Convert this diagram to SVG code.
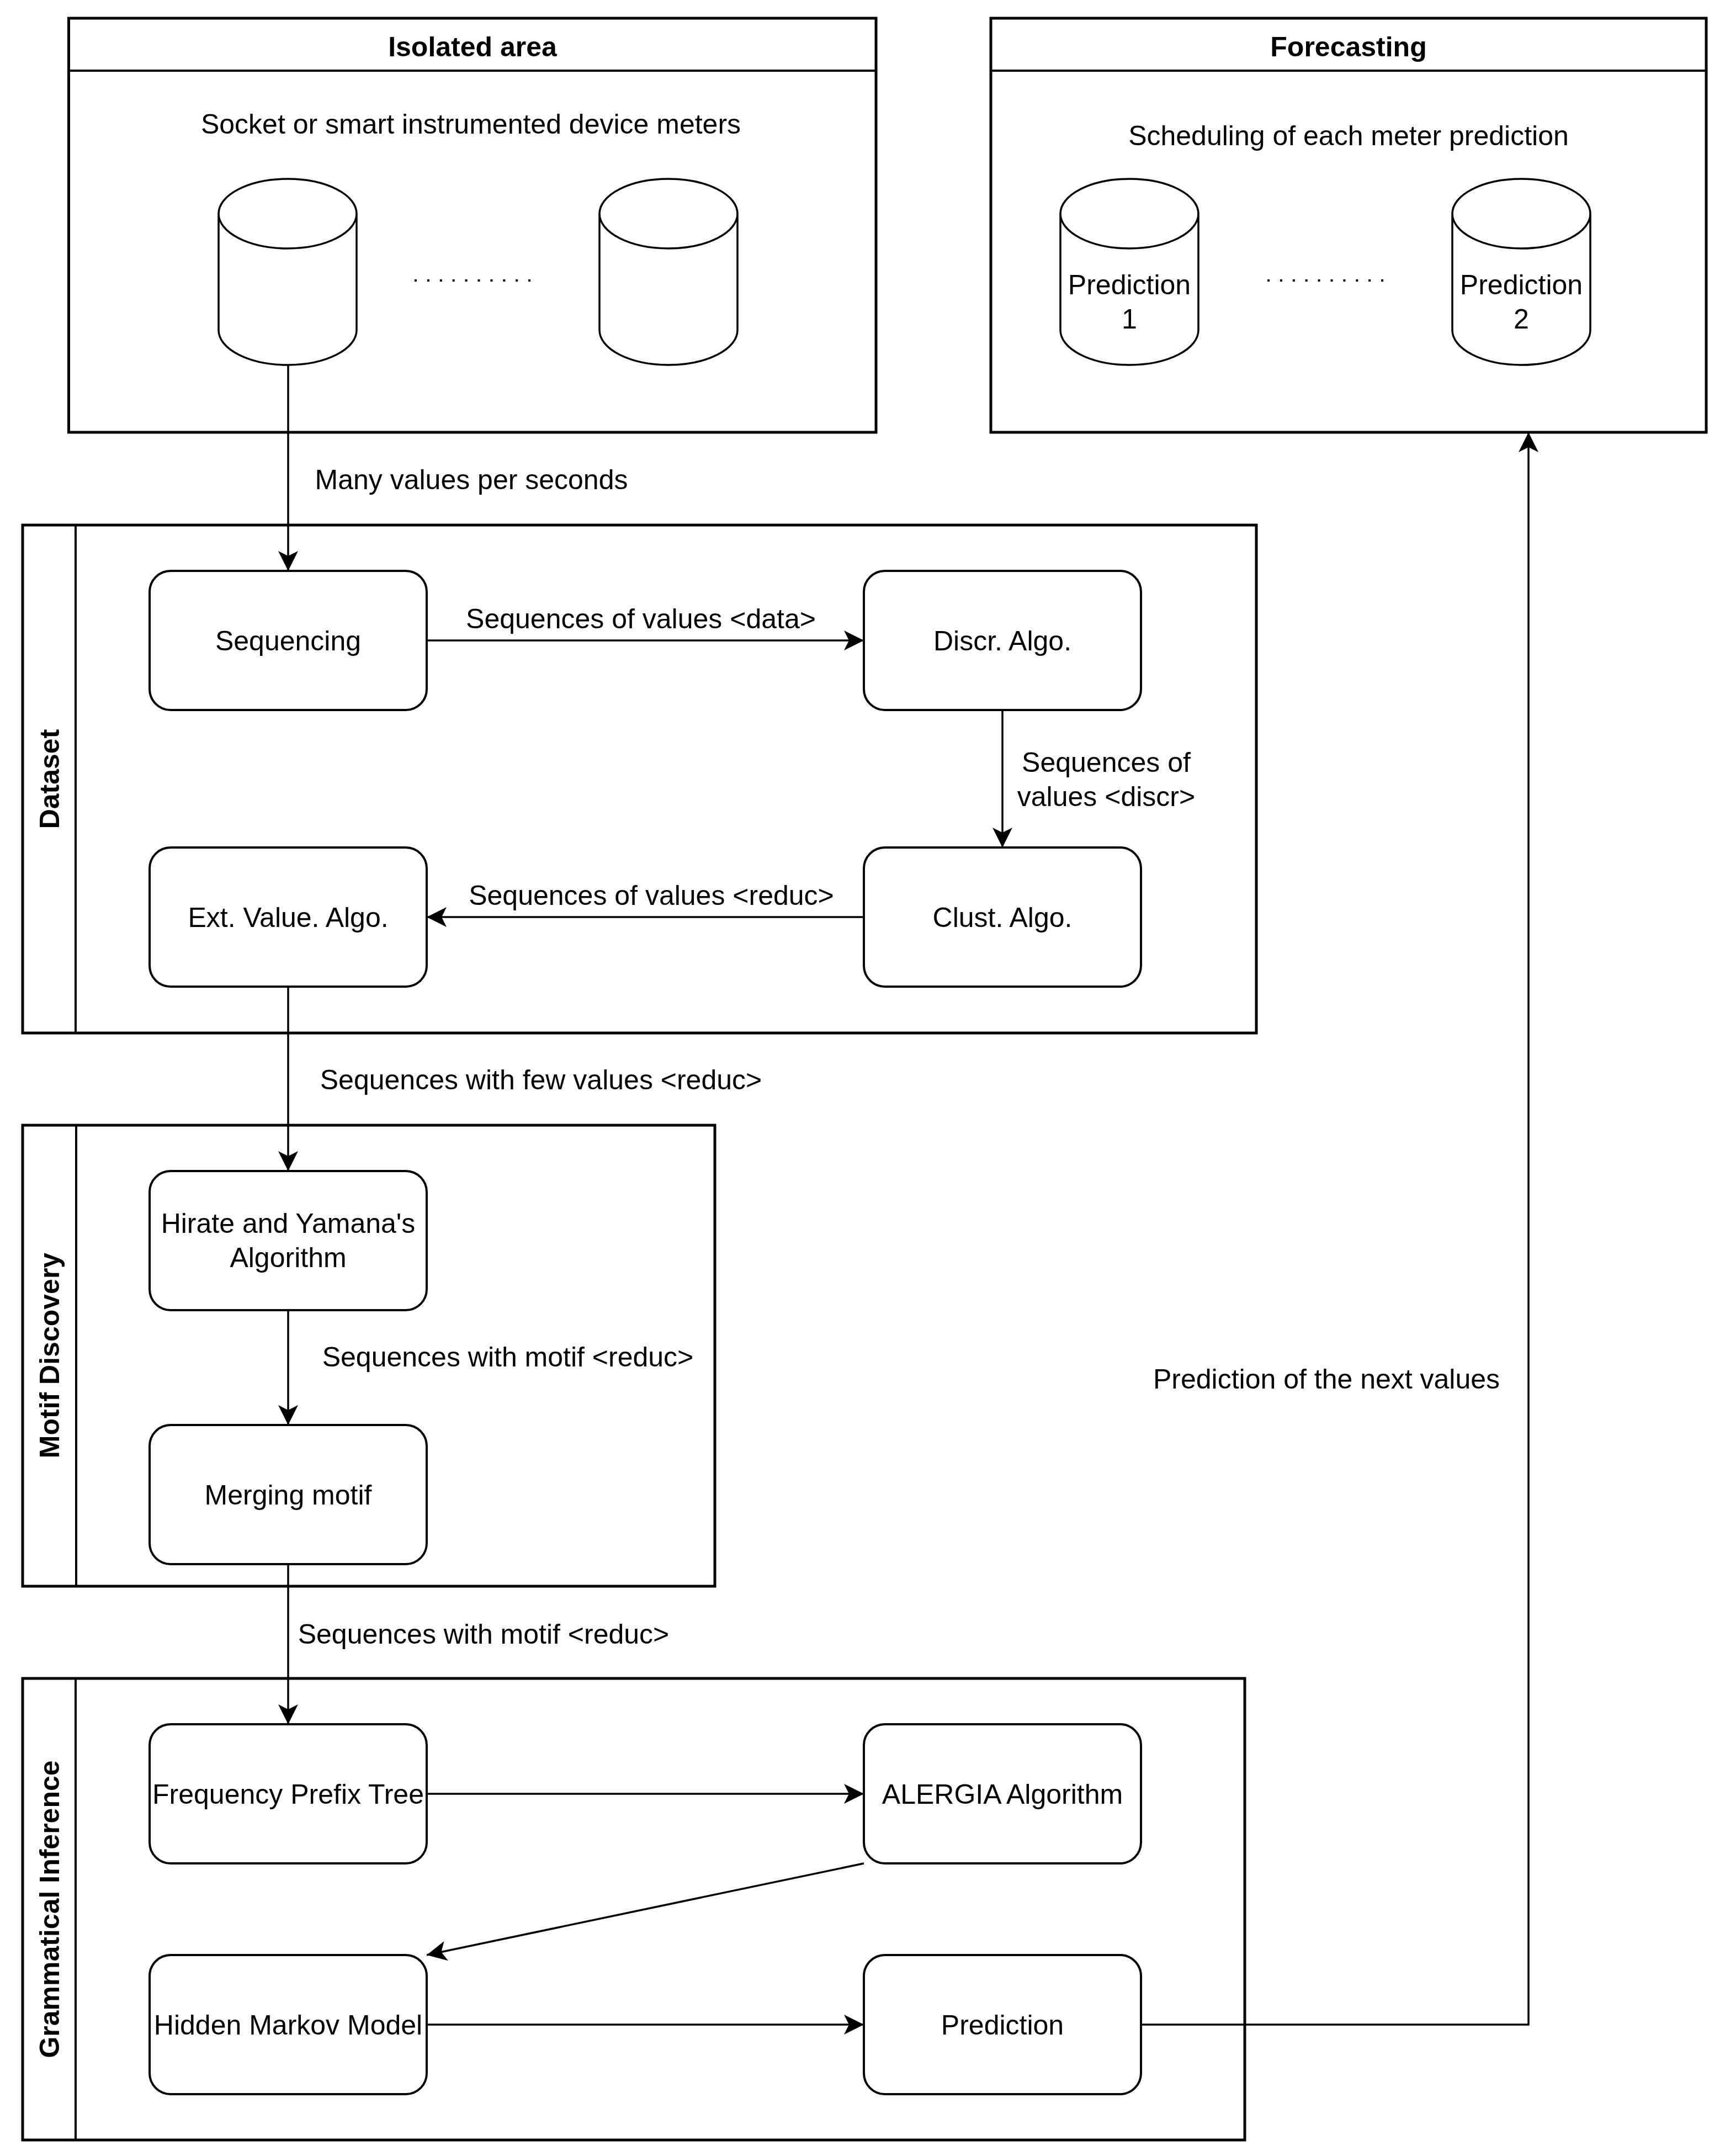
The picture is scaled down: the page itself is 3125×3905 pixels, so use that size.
<svg xmlns="http://www.w3.org/2000/svg" width="3125" height="3905" viewBox="0 0 3125 3905">
<style>
text{font-family:"Liberation Sans",Arial,sans-serif;font-size:50px;fill:#000;text-anchor:middle}
.b{font-weight:bold}
.cont{fill:#fff;stroke:#000;stroke-width:5}
.div{fill:none;stroke:#000;stroke-width:4}
.box{fill:#fff;stroke:#000;stroke-width:4}
.cyl{fill:#fff;stroke:#000;stroke-width:3.5}
.dots{stroke:#000;stroke-width:4;stroke-dasharray:4 18.9;fill:none}
.edge{fill:none;stroke:#000;stroke-width:3.5;marker-end:url(#arr)}
</style>
<defs>
<marker id="arr" markerUnits="userSpaceOnUse" markerWidth="38" markerHeight="38" refX="36" refY="18" orient="auto" viewBox="0 0 38 38">
<path d="M0,0 L36,18 L0,36 L9,18 Z" fill="#000"/>
</marker>
</defs>
<rect width="3125" height="3905" fill="#fff"/>

<g id="isolated-area">
<rect class="cont" x="124.5" y="33" width="1462.5" height="750"/>
<line class="div" x1="124.5" y1="128" x2="1587" y2="128"/>
<text class="b" x="856" y="102">Isolated area</text>
<text x="853" y="242">Socket or smart instrumented device meters</text>
</g>
<g id="meter-1">
<path class="cyl" d="M396,387 A125,63 0 0 1 646,387 A125,63 0 0 1 396,387 Z M396,387 L396,598 A125,63 0 0 0 646,598 L646,387"/>
</g>
<g id="meter-dots">
<line class="dots" x1="751" y1="508" x2="961" y2="508"/>
</g>
<g id="meter-2">
<path class="cyl" d="M1086,387 A125,63 0 0 1 1336,387 A125,63 0 0 1 1086,387 Z M1086,387 L1086,598 A125,63 0 0 0 1336,598 L1336,387"/>
</g>

<g id="forecasting">
<rect class="cont" x="1795" y="33" width="1296" height="750"/>
<line class="div" x1="1795" y1="128" x2="3091" y2="128"/>
<text class="b" x="2443" y="102">Forecasting</text>
<text x="2443" y="263">Scheduling of each meter prediction</text>
</g>
<g id="prediction-1">
<path class="cyl" d="M1921,387 A125,63 0 0 1 2171,387 A125,63 0 0 1 1921,387 Z M1921,387 L1921,598 A125,63 0 0 0 2171,598 L2171,387"/>
<text x="2046" y="533">Prediction</text>
<text x="2046" y="595">1</text>
</g>
<g id="prediction-dots">
<line class="dots" x1="2296" y1="508" x2="2506" y2="508"/>
</g>
<g id="prediction-2">
<path class="cyl" d="M2631,387 A125,63 0 0 1 2881,387 A125,63 0 0 1 2631,387 Z M2631,387 L2631,598 A125,63 0 0 0 2881,598 L2881,387"/>
<text x="2756" y="533">Prediction</text>
<text x="2756" y="595">2</text>
</g>

<g id="dataset-lane">
<rect class="cont" x="41" y="951" width="2235" height="920"/>
<line class="div" x1="137" y1="951" x2="137" y2="1871"/>
<text class="b" x="89" y="1429" transform="rotate(-90 89 1411)">Dataset</text>
</g>
<g id="sequencing">
<rect class="box" x="271" y="1034" width="502" height="252" rx="38"/>
<text x="522" y="1178">Sequencing</text>
</g>
<g id="discr-algo">
<rect class="box" x="1565" y="1034" width="502" height="252" rx="38"/>
<text x="1816" y="1178">Discr. Algo.</text>
</g>
<g id="ext-value-algo">
<rect class="box" x="271" y="1535" width="502" height="252" rx="38"/>
<text x="522" y="1679">Ext. Value. Algo.</text>
</g>
<g id="clust-algo">
<rect class="box" x="1565" y="1535" width="502" height="252" rx="38"/>
<text x="1816" y="1679">Clust. Algo.</text>
</g>

<g id="motif-lane">
<rect class="cont" x="41" y="2038" width="1254" height="835"/>
<line class="div" x1="138" y1="2038" x2="138" y2="2873"/>
<text class="b" x="89" y="2473" transform="rotate(-90 89 2455)">Motif Discovery</text>
</g>
<g id="hirate">
<rect class="box" x="271" y="2121" width="502" height="252" rx="38"/>
<text x="522" y="2233">Hirate and Yamana's</text>
<text x="522" y="2295">Algorithm</text>
</g>
<g id="merging-motif">
<rect class="box" x="271" y="2581" width="502" height="252" rx="38"/>
<text x="522" y="2725">Merging motif</text>
</g>

<g id="grammatical-lane">
<rect class="cont" x="41" y="3040" width="2214" height="836"/>
<line class="div" x1="137" y1="3040" x2="137" y2="3876"/>
<text class="b" x="89" y="3476" transform="rotate(-90 89 3458)">Grammatical Inference</text>
</g>
<g id="fpt">
<rect class="box" x="271" y="3123" width="502" height="252" rx="38"/>
<text x="522" y="3267">Frequency Prefix Tree</text>
</g>
<g id="alergia">
<rect class="box" x="1565" y="3123" width="502" height="252" rx="38"/>
<text x="1816" y="3267">ALERGIA Algorithm</text>
</g>
<g id="hmm">
<rect class="box" x="271" y="3541" width="502" height="252" rx="38"/>
<text x="522" y="3685">Hidden Markov Model</text>
</g>
<g id="prediction">
<rect class="box" x="1565" y="3541" width="502" height="252" rx="38"/>
<text x="1816" y="3685">Prediction</text>
</g>

<g id="connectors">
<path class="edge" d="M522,661 L522,1034"/>
<path class="edge" d="M773,1160 L1565,1160"/>
<path class="edge" d="M1816,1286 L1816,1535"/>
<path class="edge" d="M1565,1661 L773,1661"/>
<path class="edge" d="M522,1787 L522,2121"/>
<path class="edge" d="M522,2373 L522,2581"/>
<path class="edge" d="M522,2833 L522,3123"/>
<path class="edge" d="M773,3249 L1565,3249"/>
<path class="edge" d="M1565,3375 L773,3541"/>
<path class="edge" d="M773,3667 L1565,3667"/>
<path class="edge" d="M2067,3667 L2769,3667 L2769,783"/>
<text x="854" y="886">Many values per seconds</text>
<text x="1161" y="1138">Sequences of values &lt;data&gt;</text>
<text x="2004" y="1398">Sequences of</text>
<text x="2004" y="1460">values &lt;discr&gt;</text>
<text x="1180" y="1639">Sequences of values &lt;reduc&gt;</text>
<text x="980" y="1973">Sequences with few values &lt;reduc&gt;</text>
<text x="920" y="2475">Sequences with motif &lt;reduc&gt;</text>
<text x="876" y="2977">Sequences with motif &lt;reduc&gt;</text>
<text x="2403" y="2515">Prediction of the next values</text>
</g>
</svg>
